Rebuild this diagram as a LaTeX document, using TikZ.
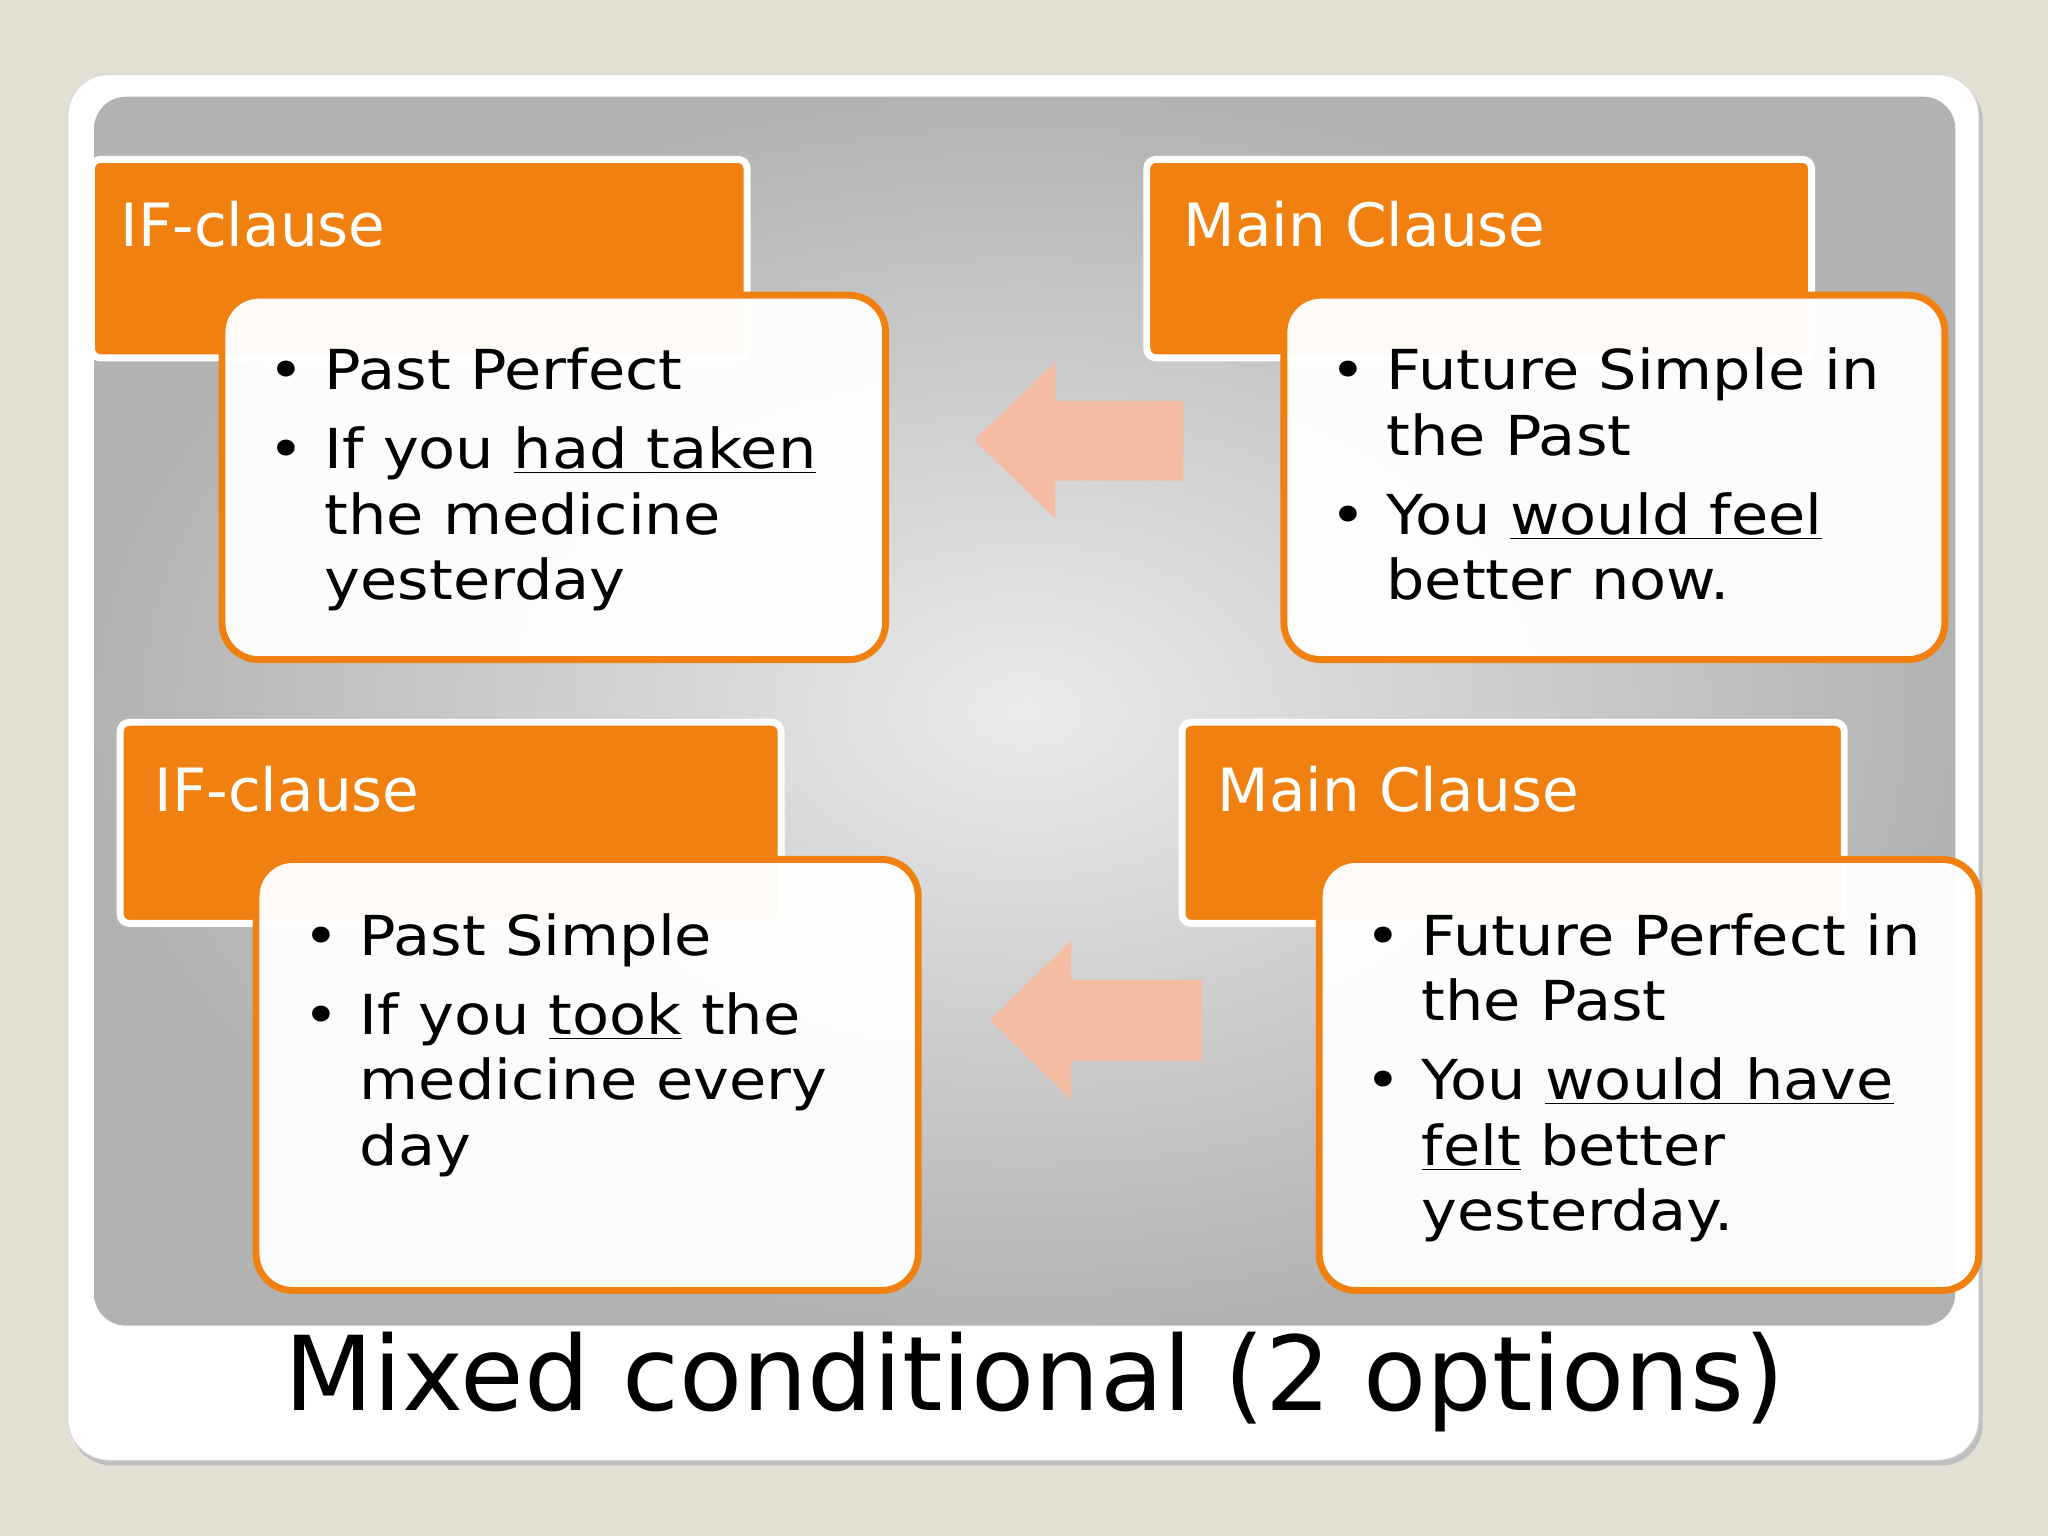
\documentclass[tikz,border=0pt]{standalone}
\usepackage{fontspec}
\setmainfont{DejaVu Sans}
\newfontfamily\bodyfont[FakeStretch=1.1]{DejaVu Sans}
\definecolor{bgbeige}{HTML}{E3DFD3}
\definecolor{orng}{HTML}{F0800F}
\definecolor{salmon}{HTML}{F5BCA4}
\tikzset{
 hdr/.style={fill=orng,draw=white,line width=3pt,rounded corners=4pt},
 hdrtext/.style={anchor=west,text=white,font=\fontsize{26}{30}\selectfont,inner sep=0},
 card/.style={fill=white,fill opacity=0.96,draw=orng,line width=3pt,rounded corners=16pt},
 body/.style={anchor=north west,inner sep=0,font=\bodyfont\fontsize{24}{28.5}\selectfont,align=left},
 arr/.style={fill=salmon,draw=none}
}
\newcommand{\bx}[1]{\begin{tabular}{@{}l@{\hspace{9pt}}l@{}}#1\end{tabular}}
\begin{document}
\begin{tikzpicture}[x=0.02cm,y=-0.02cm]
\useasboundingbox (0,0) rectangle (1568,1176);
\fill[bgbeige] (0,0) rectangle (1568,1176);
\fill[black!25,rounded corners=18pt] (54,61) rectangle (1518,1122);
\fill[white,draw=black!15,rounded corners=18pt] (52,57) rectangle (1515,1118);
\shade[inner color=black!8,outer color=black!30,rounded corners=14pt] (72,74) rectangle (1497,1015);
% arrows
\fill[arr] (746,337) -- (808,277) -- (808,307) -- (906,307) -- (906,368) -- (808,368) -- (808,397) -- cycle;
\fill[arr] (758,781) -- (820,720) -- (820,750) -- (920,750) -- (920,812) -- (820,812) -- (820,842) -- cycle;
% top-left
\draw[hdr] (70,122) rectangle (572,274);
\node[hdrtext] (h1) at (92,172) {IF-clause};
\draw[card] (170,226) rectangle (678,505);
\node[body] (b1) at (205,263) {\bx{\textbullet & Past Perfect\\[6pt] \textbullet & If you \underline{had taken}\\ & the medicine\\ & yesterday}};
% top-right
\draw[hdr] (878,122) rectangle (1387,274);
\node[hdrtext] (h2) at (906,172) {Main Clause};
\draw[card] (983,226) rectangle (1489,505);
\node[body] (b2) at (1018,263) {\bx{\textbullet & Future Simple in\\ & the Past\\[6pt] \textbullet & You \underline{would feel}\\ & better now.}};
% bottom-left
\draw[hdr] (92,553) rectangle (598,707);
\node[hdrtext] (h3) at (118,604) {IF-clause};
\draw[card] (196,658) rectangle (703,988);
\node[body] (b3) at (232,696) {\bx{\textbullet & Past Simple\\[6pt] \textbullet & If you \underline{took} the\\ & medicine every\\ & day}};
% bottom-right
\draw[hdr] (905,553) rectangle (1412,707);
\node[hdrtext] (h4) at (932,604) {Main Clause};
\draw[card] (1010,658) rectangle (1515,988);
\node[body] (b4) at (1045,696) {\bx{\textbullet & Future Perfect in\\ & the Past\\[6pt] \textbullet & You \underline{would have}\\ & \underline{felt} better\\ & yesterday.}};
% title
\node[font=\fontsize{45}{52}\selectfont] (title) at (792,1058) {Mixed conditional (2 options)};
\end{tikzpicture}
\end{document}
